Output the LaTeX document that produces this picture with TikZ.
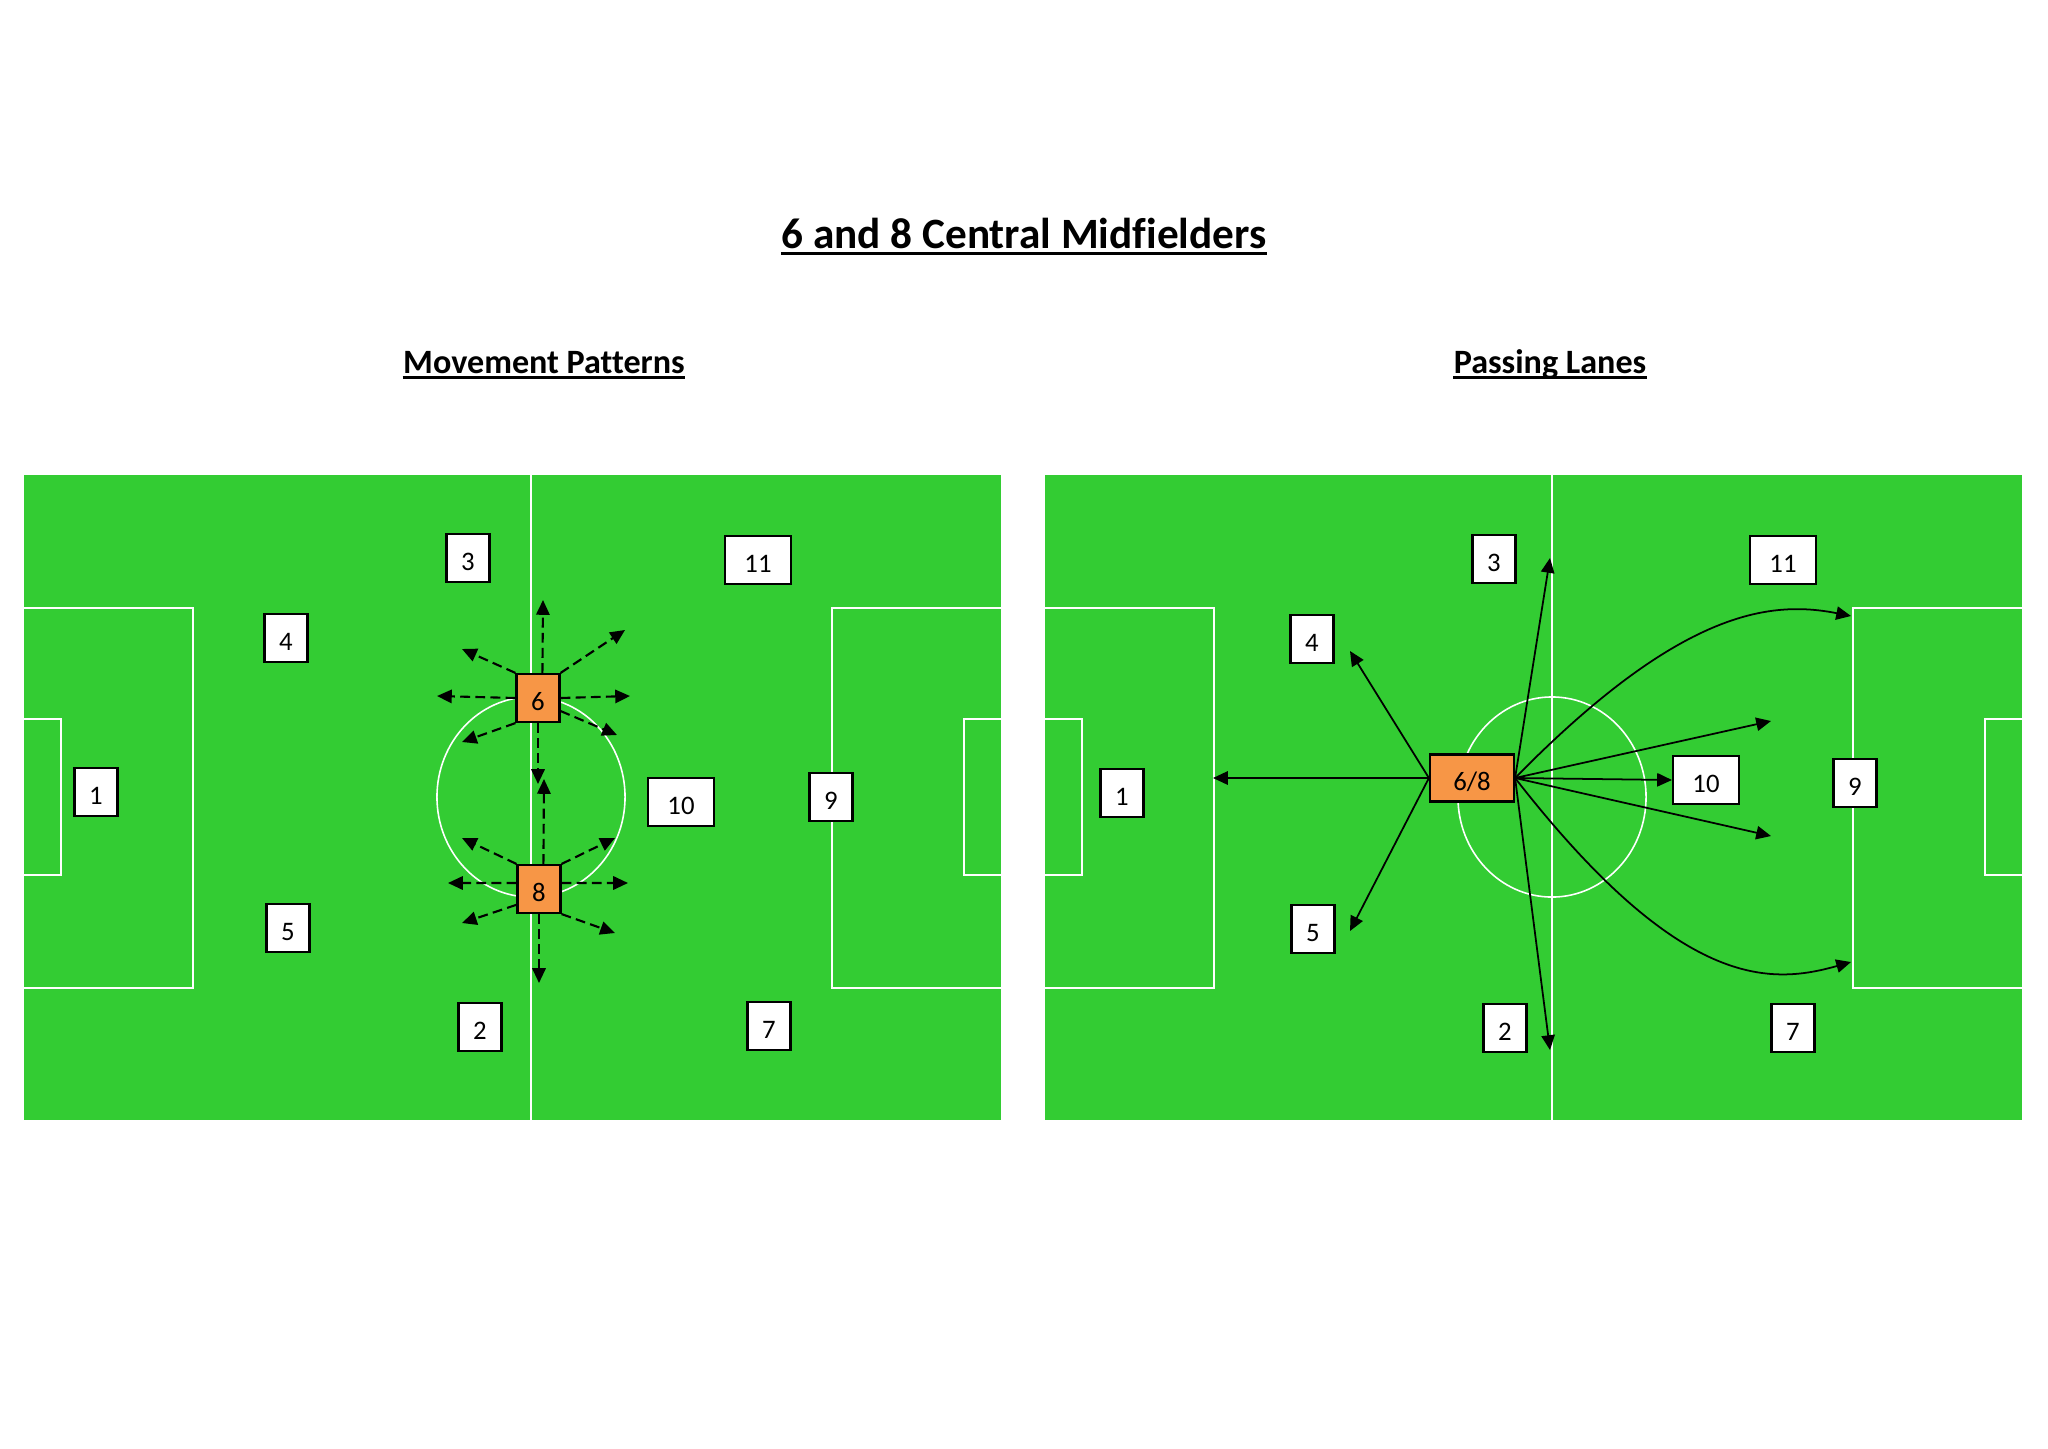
\documentclass[tikz,border=0pt]{standalone}
\usepackage{fontspec}
\setmainfont{Carlito}[Ligatures=NoCommon]
\usetikzlibrary{arrows.meta}
\definecolor{grass}{RGB}{51,204,51}
\definecolor{midcol}{RGB}{247,150,70}

\begin{document}
\begin{tikzpicture}[x=0.01cm, y=-0.01cm,
    player/.style={draw=black, line width=0.6pt, fill=white, inner sep=0pt,
      minimum width=0.43cm, minimum height=0.48cm, text height=7.2pt, text depth=0pt,
      font=\fontsize{7.6}{8}\selectfont},
    wide/.style={player, minimum width=0.66cm},
    cmid/.style={player, fill=midcol},
    run/.style={-{Triangle[length=4.2pt, width=3.8pt]}, dash pattern=on 2.8pt off 1.5pt, line width=0.6pt},
    pass/.style={-{Triangle[length=4.2pt, width=3.8pt]}, line width=0.5pt},
    chalk/.style={draw=white, line width=0.45pt},
    heading/.style={anchor=base, inner sep=0pt, font=\bfseries\fontsize{#1}{#1}\selectfont}]
  \useasboundingbox (0,0) rectangle (2048,1448);

  % titles
  \node[heading=12.3] (title) at (1024,248) {6 and 8 Central Midfielders};
  \node[heading=9.7] (subL) at (544,373) {Movement Patterns};
  \node[heading=9.7] (subR) at (1550,373) {Passing Lanes};
  \draw[line width=0.9pt] ([yshift=-1.5pt]title.base west) -- ([yshift=-1.5pt]title.base east);
  \draw[line width=0.75pt] ([yshift=-1.2pt]subL.base west) -- ([yshift=-1.2pt]subL.base east);
  \draw[line width=0.75pt] ([yshift=-1.2pt]subR.base west) -- ([yshift=-1.2pt]subR.base east);

  % the two pitches
  \foreach \ox in {24,1045} {
    \fill[grass] (\ox,475) rectangle ++(977,645);
    \draw[chalk] (\ox+507,475) -- ++(0,645); %halfway line
    \draw[chalk] (\ox+507,797) ellipse [x radius=0.94cm, y radius=1cm];
    \draw[chalk] (\ox,608) -| (\ox+169,988) -- (\ox,988);
    \draw[chalk] (\ox,719) -| (\ox+37,875) -- (\ox,875);
    \draw[chalk] (\ox+977,608) -| (\ox+808,988) -- (\ox+977,988);
    \draw[chalk] (\ox+977,719) -| (\ox+940,875) -- (\ox+977,875);
  }

  % movement patterns
  \node[player] (m1) at (96,792) {1};
  \node[player] (m2) at (480,1027) {2};
  \node[player] (m3) at (468,558) {3};
  \node[player] (m4) at (286,638) {4};
  \node[player] (m5) at (288,928) {5};
  \node[player] (m7) at (769,1026) {7};
  \node[player] (m9) at (831,797) {9};
  \node[wide] (m10) at (681,802) {10};
  \node[wide] (m11) at (758,560) {11};

  \foreach \n/\x/\y in {r6n/543/600, r6ne/625/630, r6nw/462/649, r6w/437/696,
      r6e/630/696, r6se/617/735, r6sw/462/742, r6s/538/784,
      r8n/544/779, r8nw/462/838, r8ne/615/838, r8w/448/883,
      r8e/628/883, r8sw/462/923, r8se/615/933, r8s/539/983}
    \coordinate (\n) at (\x,\y);

  \node[cmid] (m6) at (538,698) {6};
  \node[cmid] (m8) at (539,889) {8};
  \draw[run] (m6.80) -- (r6n);
  \draw[run] (m6.north east) -- (r6ne);
  \draw[run] (m6.north west) -- (r6nw);
  \draw[run] (m6.west) -- (r6w);
  \draw[run] (m6.east) -- (r6e);
  \draw[run] (m6.-30) -- (r6se);
  \draw[run] (m6.south west) -- (r6sw);
  \draw[run] (m6.south) -- (r6s);
  \draw[run] (m8.80) -- (r8n);
  \draw[run] (m8.north west) -- (r8nw);
  \draw[run] (m8.north east) -- (r8ne);
  \draw[run] (m8.165) -- (r8w);
  \draw[run] (m8.15) -- (r8e);
  \draw[run] (m8.-145) -- (r8sw);
  \draw[run] (m8.south east) -- (r8se);
  \draw[run] (m8.south) -- (r8s);

  % passing lanes
  \node[player] (p1) at (1122,793) {1};
  \node[player] (p2) at (1505,1028) {2};
  \node[player] (p3) at (1494,559) {3};
  \node[player] (p4) at (1312,639) {4};
  \node[player] (p5) at (1313,929) {5};
  \node[player] (p7) at (1793,1028) {7};
  \node[player] (p9) at (1855,783) {9};
  \node[wide] (p10) at (1706,780) {10};
  \node[wide] (p11) at (1783,560) {11};
  \node[cmid, minimum width=0.84cm, minimum height=0.47cm] (p68) at (1472,778) {6/8};

  \foreach \n/\x/\y in {l1/1213/778, l4/1350/651, l5/1350/931, l3/1550/558,
      l2/1550/1050, l9a/1771/721, l9b/1771/836, l11/1851/616, l7/1851/962}
    \coordinate (\n) at (\x,\y);

  \draw[pass] (p68.west) -- (l1);
  \draw[pass] (p68.west) -- (l4);
  \draw[pass] (p68.west) -- (l5);
  \draw[pass] (p68.east) -- (l3);
  \draw[pass] (p68.east) -- (l2);
  \draw[pass] (p68.east) -- (l9a);
  \draw[pass] (p68.east) -- (p10.west);
  \draw[pass] (p68.east) -- (l9b);
  \draw[pass] (p68.east) .. controls (1680,610) and (1770,600) .. (l11);
  \draw[pass] (p68.east) .. controls (1680,990) and (1770,985) .. (l7);
\end{tikzpicture}
\end{document}
